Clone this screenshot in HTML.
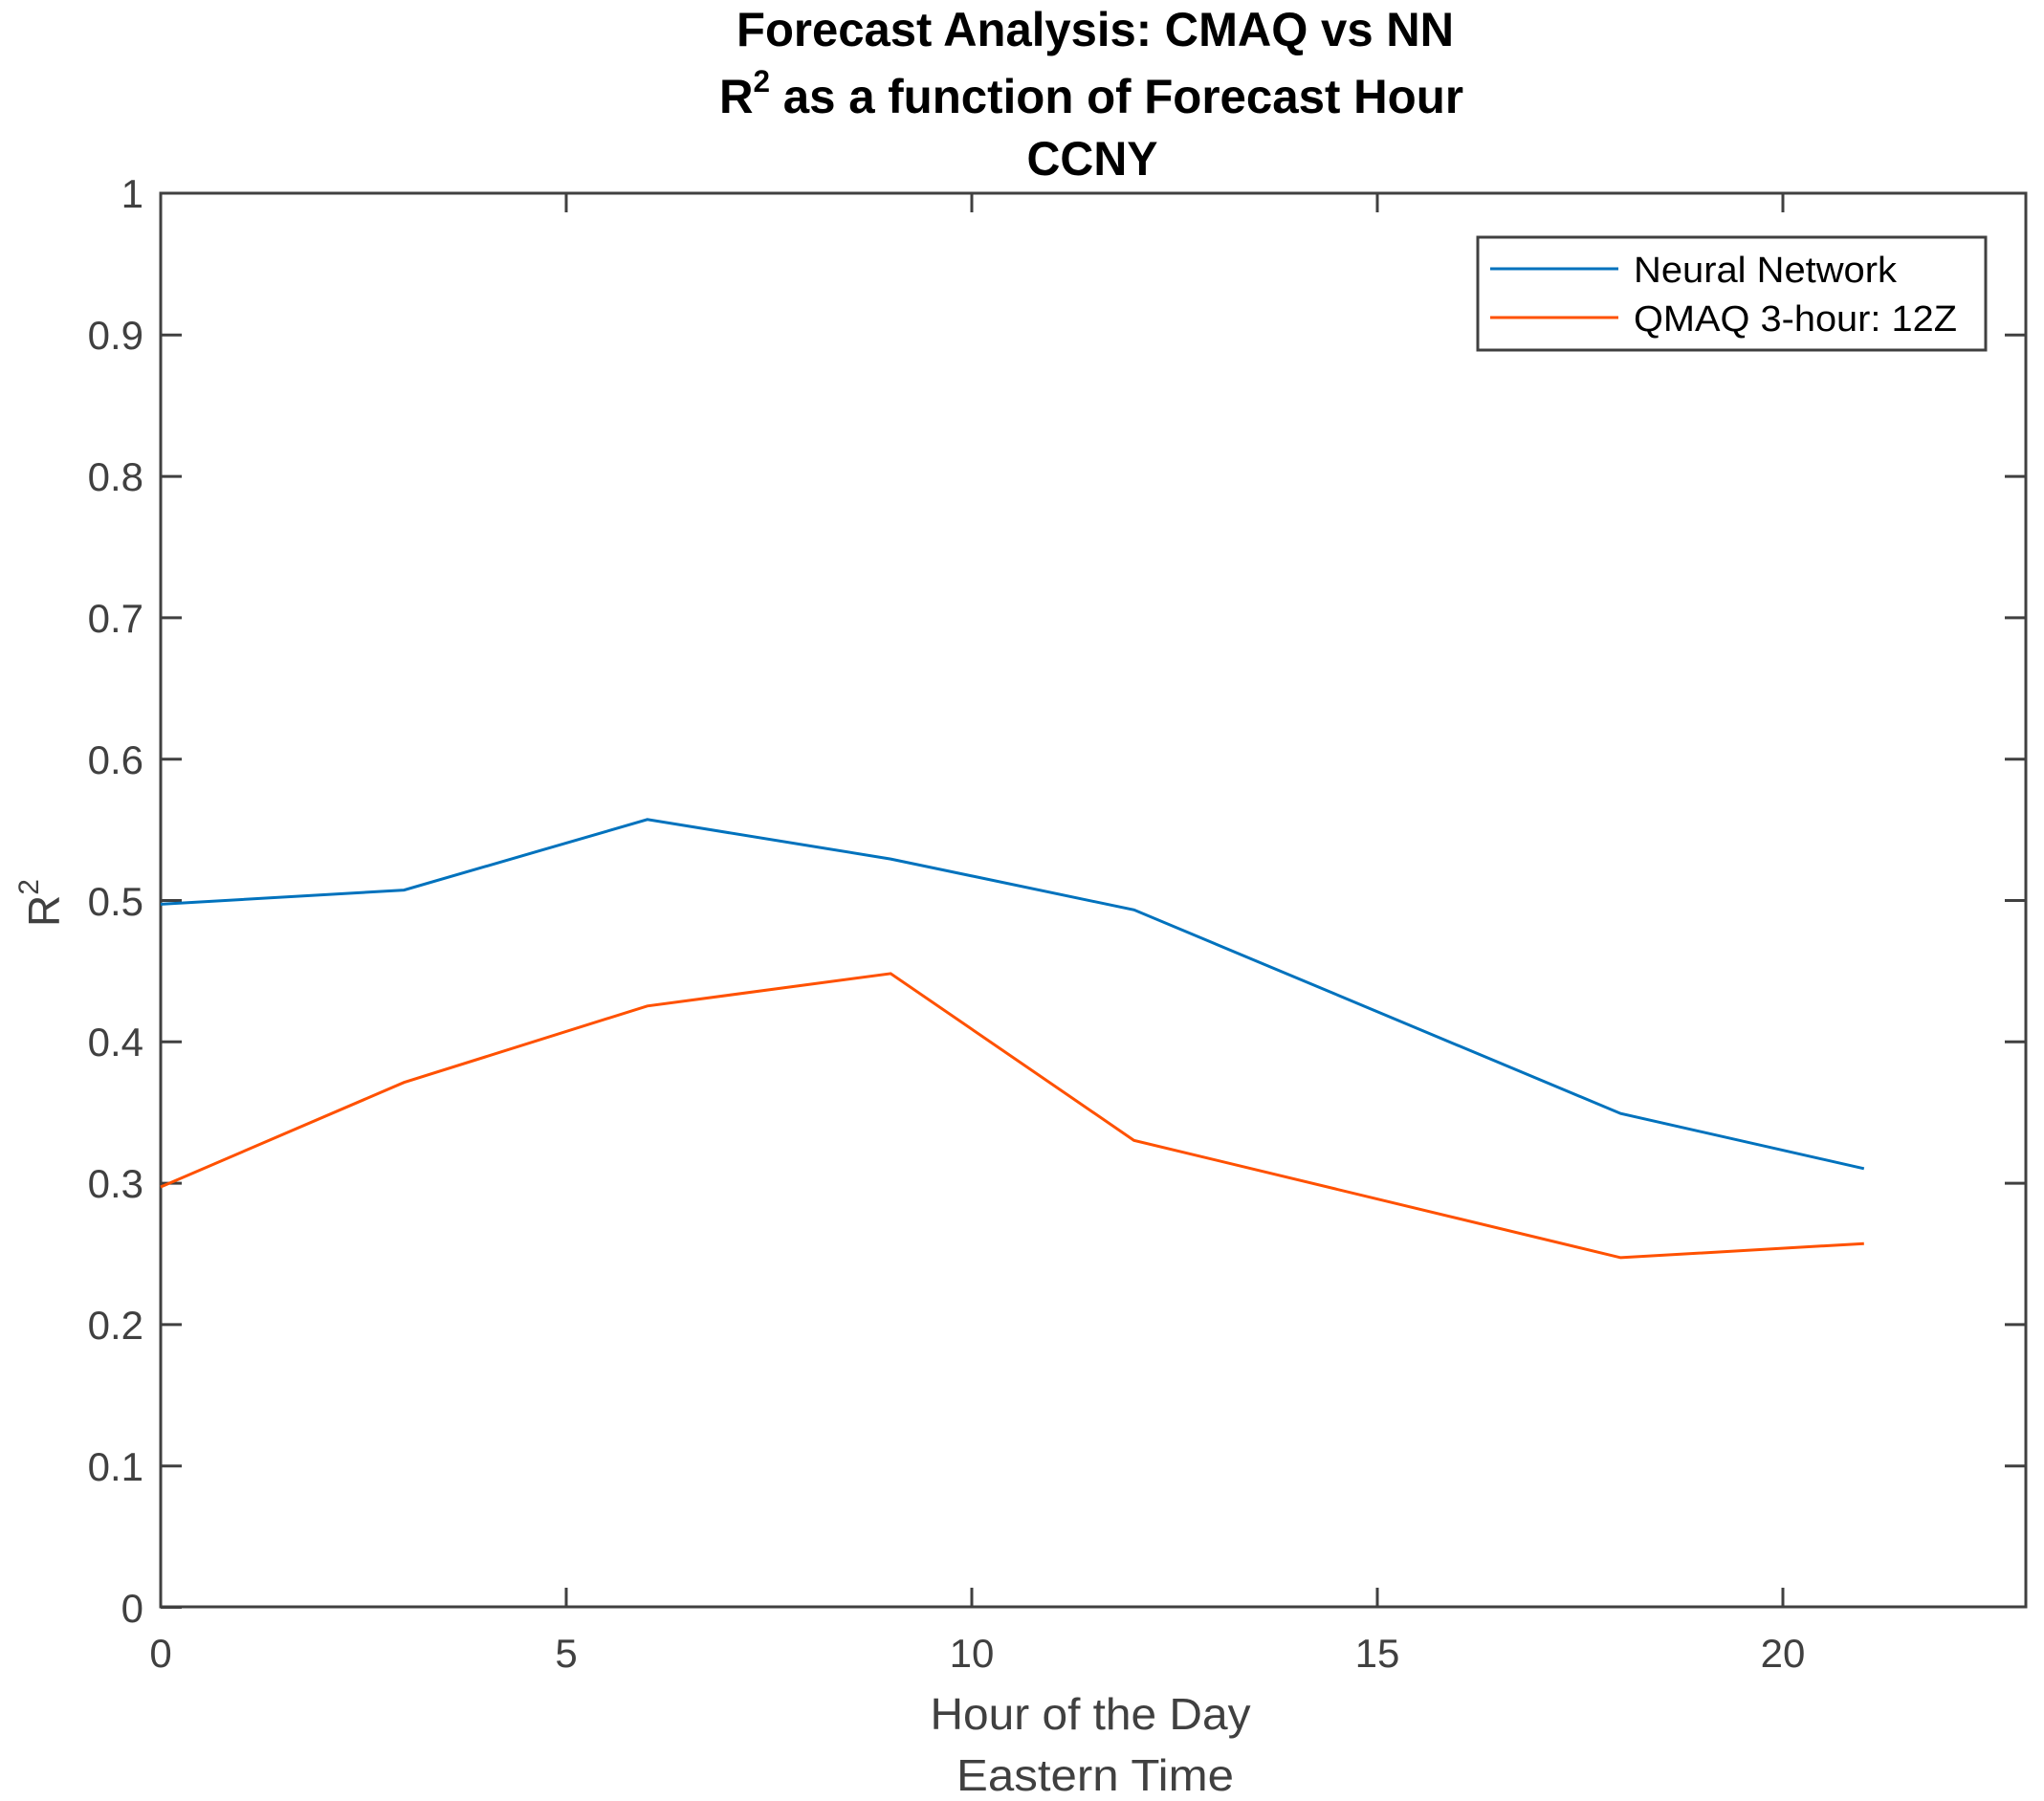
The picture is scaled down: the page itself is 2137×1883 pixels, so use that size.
<!DOCTYPE html>
<html><head><meta charset="utf-8"><style>html,body{margin:0;padding:0;background:#fff}svg{display:block}</style></head>
<body>
<svg width="2137" height="1883" viewBox="0 0 2137 1883" xmlns="http://www.w3.org/2000/svg" font-family="Liberation Sans, Arial, sans-serif">
<rect width="2137" height="1883" fill="#fff"/>
<g font-weight="bold" fill="#000" font-size="50" text-anchor="middle">
<text x="1145" y="48" textLength="750" lengthAdjust="spacingAndGlyphs">Forecast Analysis: CMAQ vs NN</text>
<text x="1141" y="118" textLength="778" lengthAdjust="spacingAndGlyphs">R<tspan font-size="32" dy="-22">2</tspan><tspan dy="22"> as a function of Forecast Hour</tspan></text>
<text x="1142" y="183" textLength="137" lengthAdjust="spacingAndGlyphs">CCNY</text>
</g>
<g stroke="#404040" stroke-width="3" fill="none">
<rect x="168" y="202" width="1950" height="1478"/>
<path d="M168,1680.5h22M168,1532.7h22M168,1384.9h22M168,1237.1h22M168,1089.3h22M168,941.5h22M168,793.7h22M168,645.9h22M168,498.1h22M168,350.3h22
M2118,1532.7h-22M2118,1384.9h-22M2118,1237.1h-22M2118,1089.3h-22M2118,941.5h-22M2118,793.7h-22M2118,645.9h-22M2118,498.1h-22M2118,350.3h-22
M592,1680v-20M1016,1680v-20M1440,1680v-20M1864,1680v-20
M592,202v20M1016,202v20M1440,202v20M1864,202v20"/>
</g>
<g fill="#404040" font-size="42" text-anchor="end">
<text x="150" y="1696">0</text><text x="150" y="1548">0.1</text><text x="150" y="1400">0.2</text>
<text x="150" y="1252">0.3</text><text x="150" y="1104">0.4</text><text x="150" y="957">0.5</text>
<text x="150" y="809">0.6</text><text x="150" y="661">0.7</text><text x="150" y="513">0.8</text>
<text x="150" y="365">0.9</text><text x="150" y="217">1</text>
</g>
<g fill="#404040" font-size="42" text-anchor="middle">
<text x="168" y="1743">0</text><text x="592" y="1743">5</text><text x="1016" y="1743">10</text>
<text x="1440" y="1743">15</text><text x="1864" y="1743">20</text>
<text x="1140" y="1808" font-size="46" textLength="335" lengthAdjust="spacingAndGlyphs">Hour of the Day</text>
<text x="1145" y="1872" font-size="46" textLength="290" lengthAdjust="spacingAndGlyphs">Eastern Time</text>
<text transform="translate(62,944) rotate(-90)" font-size="46">R<tspan font-size="30" dy="-22">2</tspan></text>
</g>
<polyline fill="none" stroke="#0072BD" stroke-width="3" points="168,945.4 422.4,930.6 676.8,856.8 931.2,898.1 1185.6,951.3 1694.4,1164.2 1948.8,1221.8"/>
<polyline fill="none" stroke="#FF5100" stroke-width="3" points="168,1241 422.4,1131.7 676.8,1051.8 931.2,1017.9 1185.6,1192.3 1694.4,1314.9 1948.8,1300.2"/>
<rect x="1545" y="248" width="531" height="118" fill="#fff" stroke="#404040" stroke-width="3"/>
<line x1="1558" y1="281" x2="1692" y2="281" stroke="#0072BD" stroke-width="3"/>
<line x1="1558" y1="332" x2="1692" y2="332" stroke="#FF5100" stroke-width="3"/>
<g fill="#000" font-size="38">
<text x="1708" y="295" textLength="275" lengthAdjust="spacingAndGlyphs">Neural Network</text>
<text x="1708" y="346" textLength="338" lengthAdjust="spacingAndGlyphs">QMAQ 3-hour: 12Z</text>
</g>
</svg>
</body></html>
